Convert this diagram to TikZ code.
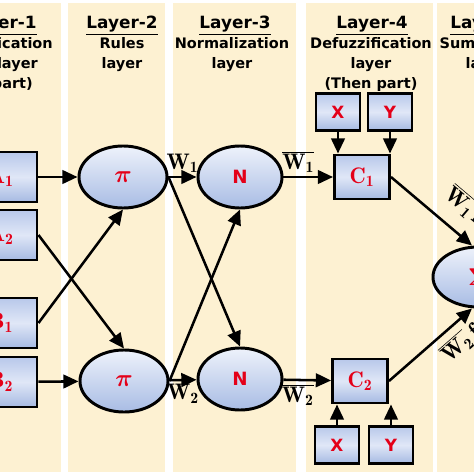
\documentclass[tikz,border=0pt]{standalone}
\usepackage{fontspec}
\setsansfont{DejaVu Sans}
\usepackage{bm}
\usepackage{tikz}
\usetikzlibrary{arrows.meta,shapes.geometric}
\definecolor{bandCol}{RGB}{253,241,210}
\definecolor{redCol}{RGB}{228,0,24}
\definecolor{boxTop}{RGB}{184,200,234}
\definecolor{boxMid}{RGB}{224,231,247}
\definecolor{boxBot}{RGB}{166,186,226}
\definecolor{ellTop}{RGB}{238,242,251}
\definecolor{ellBot}{RGB}{168,188,228}
\tikzset{
  layTitle/.style={font=\sffamily\bfseries\fontsize{12}{14}\selectfont, inner sep=0pt},
  layText/.style={font=\sffamily\bfseries\fontsize{10.3}{14.2}\selectfont, align=center, inner sep=0pt},
  mfbox/.style={draw, line width=2.1pt, top color=boxTop, bottom color=boxBot, middle color=boxMid,
                text=redCol, font=\fontsize{16}{16}\selectfont, minimum width=1.8cm, minimum height=1.25cm},
  conbox/.style={mfbox, minimum width=1.375cm, minimum height=1.1cm},
  inbox/.style={mfbox, font=\sffamily\bfseries\fontsize{12}{12}\selectfont,
                minimum width=1.1cm, minimum height=0.925cm},
  oval/.style={ellipse, draw, line width=2.1pt, top color=ellTop, bottom color=ellBot,
               text=redCol, font=\sffamily\bfseries\fontsize{13}{13}\selectfont,
               minimum height=1.55cm, inner sep=0pt},
  arr/.style={-{Triangle[length=3.8mm,width=3.4mm]}, line width=1.8pt},
  wlab/.style={font=\fontsize{16}{16}\selectfont, inner sep=2pt},
}
\begin{document}
\begin{tikzpicture}[x=0.025cm, y=-0.025cm]
  \useasboundingbox (0,0) rectangle (474,474);
  \clip (0,0) rectangle (474,474);

  % layer bands
  \foreach \xa/\xb in {-60/61, 68/165, 173/296, 306/433, 437/560}
    \fill[bandCol] (\xa,3) rectangle (\xb,472);

  % layer headings
  \node[layTitle, anchor=base east] (titleL1) at (37,28.5) {\underline{Layer-1}};
  \node[layText, anchor=base east] (subL1a) at (53,48) {Fuzzification};
  \node[layText, anchor=base east] (subL1b) at (38,68) {layer};
  \node[layText, anchor=base east] (subL1c) at (33,88) {(If part)};
  \node[layTitle, anchor=base] (titleL2) at (122,28.5) {\underline{Layer-2}};
  \node[layText, anchor=north] (subL2) at (122,37) {Rules\\layer};
  \node[layTitle, anchor=base] (titleL3) at (235,28.5) {\underline{Layer-3}};
  \node[layText, anchor=north] (subL3) at (232,37) {Normalization\\layer};
  \node[layTitle, anchor=base] (titleL4) at (372,28.5) {\underline{Layer-4}};
  \node[layText, anchor=north] (subL4) at (371,37) {Defuzzification\\layer\\(Then part)};
  \node[layTitle, anchor=base] (titleL5) at (486,28.5) {\underline{Layer-5}};
  \node[layText, anchor=north] (subL5) at (486,37) {Summation\\layer};

  % layer 1: membership boxes
  \node[mfbox] (mfA1) at (1,177) {$\mathbf{A_1}$};
  \node[mfbox] (mfA2) at (1,235) {$\mathbf{A_2}$};
  \node[mfbox] (mfB1) at (1,323) {$\mathbf{B_1}$};
  \node[mfbox] (mfB2) at (1,382) {$\mathbf{B_2}$};

  % layer 2 and 3
  \node[oval, minimum width=2.2cm, font=\fontsize{18}{18}\selectfont] (ruleTop) at (123,177) {$\bm{\pi}$};
  \node[oval, minimum width=2.2cm, font=\fontsize{18}{18}\selectfont] (ruleBot) at (124,381) {$\bm{\pi}$};
  \node[oval, minimum width=2.1cm] (normTop) at (240,177) {N};
  \node[oval, minimum width=2.1cm] (normBot) at (240,379) {N};

  % layer 4
  \node[conbox] (conTop) at (362,177) {$\mathbf{C_1}$};
  \node[conbox] (conBot) at (360,381) {$\mathbf{C_2}$};
  \node[inbox] (inXTop) at (338,112) {X};
  \node[inbox] (inYTop) at (390,112) {Y};
  \node[inbox] (inXBot) at (337,445) {X};
  \node[inbox] (inYBot) at (391,445) {Y};

  % layer 5
  \node[oval, minimum width=2.25cm, minimum height=1.5cm, font=\fontsize{16}{16}\selectfont]
    (sumOut) at (478,277) {$\bm{\Sigma}$};

  % connections
  \draw[arr] (mfA1) -- (ruleTop);
  \draw[arr] (mfB2) -- (ruleBot);
  \draw[arr] (mfA2.east) -- (ruleBot.north);
  \draw[arr] (mfB1.east) -- (ruleTop.south);
  \draw[arr] (ruleTop) -- node[wlab, above, pos=0.5] {$\mathbf{W_1}$} (normTop);
  \draw[arr] (ruleBot) -- node[wlab, below, pos=0.5] {$\mathbf{W_2}$} (normBot);
  \draw[arr] (ruleTop.east) -- (normBot.north);
  \draw[arr] (ruleBot.east) -- (normTop.south);
  \draw[arr] (normTop) -- node[wlab, above, pos=0.3] {$\overline{\mathbf{W_1}}$} (conTop);
  \draw[arr] (normBot) -- node[wlab, below, pos=0.3] {$\overline{\mathbf{W_2}}$} (conBot);
  \draw[arr] (inXTop.south) -- (inXTop.south |- conTop.north);
  \draw[arr] (inYTop.south) -- (inYTop.south |- conTop.north);
  \draw[arr] (inXBot.north) -- (inXBot.north |- conBot.south);
  \draw[arr] (inYBot.north) -- (inYBot.north |- conBot.south);
  \draw[arr] (conTop.east) -- node[wlab, sloped, above=8pt, pos=0.74] {$\overline{\mathbf{W_1}}\,\mathbf{f_1}$}
    ([xshift=-0.15cm]sumOut.north);
  \draw[arr] (conBot.east) -- node[wlab, sloped, below=3pt, pos=0.75] {$\overline{\mathbf{W_2}}\,\mathbf{f_2}$}
    ([xshift=-0.15cm]sumOut.south);
\end{tikzpicture}
\end{document}
